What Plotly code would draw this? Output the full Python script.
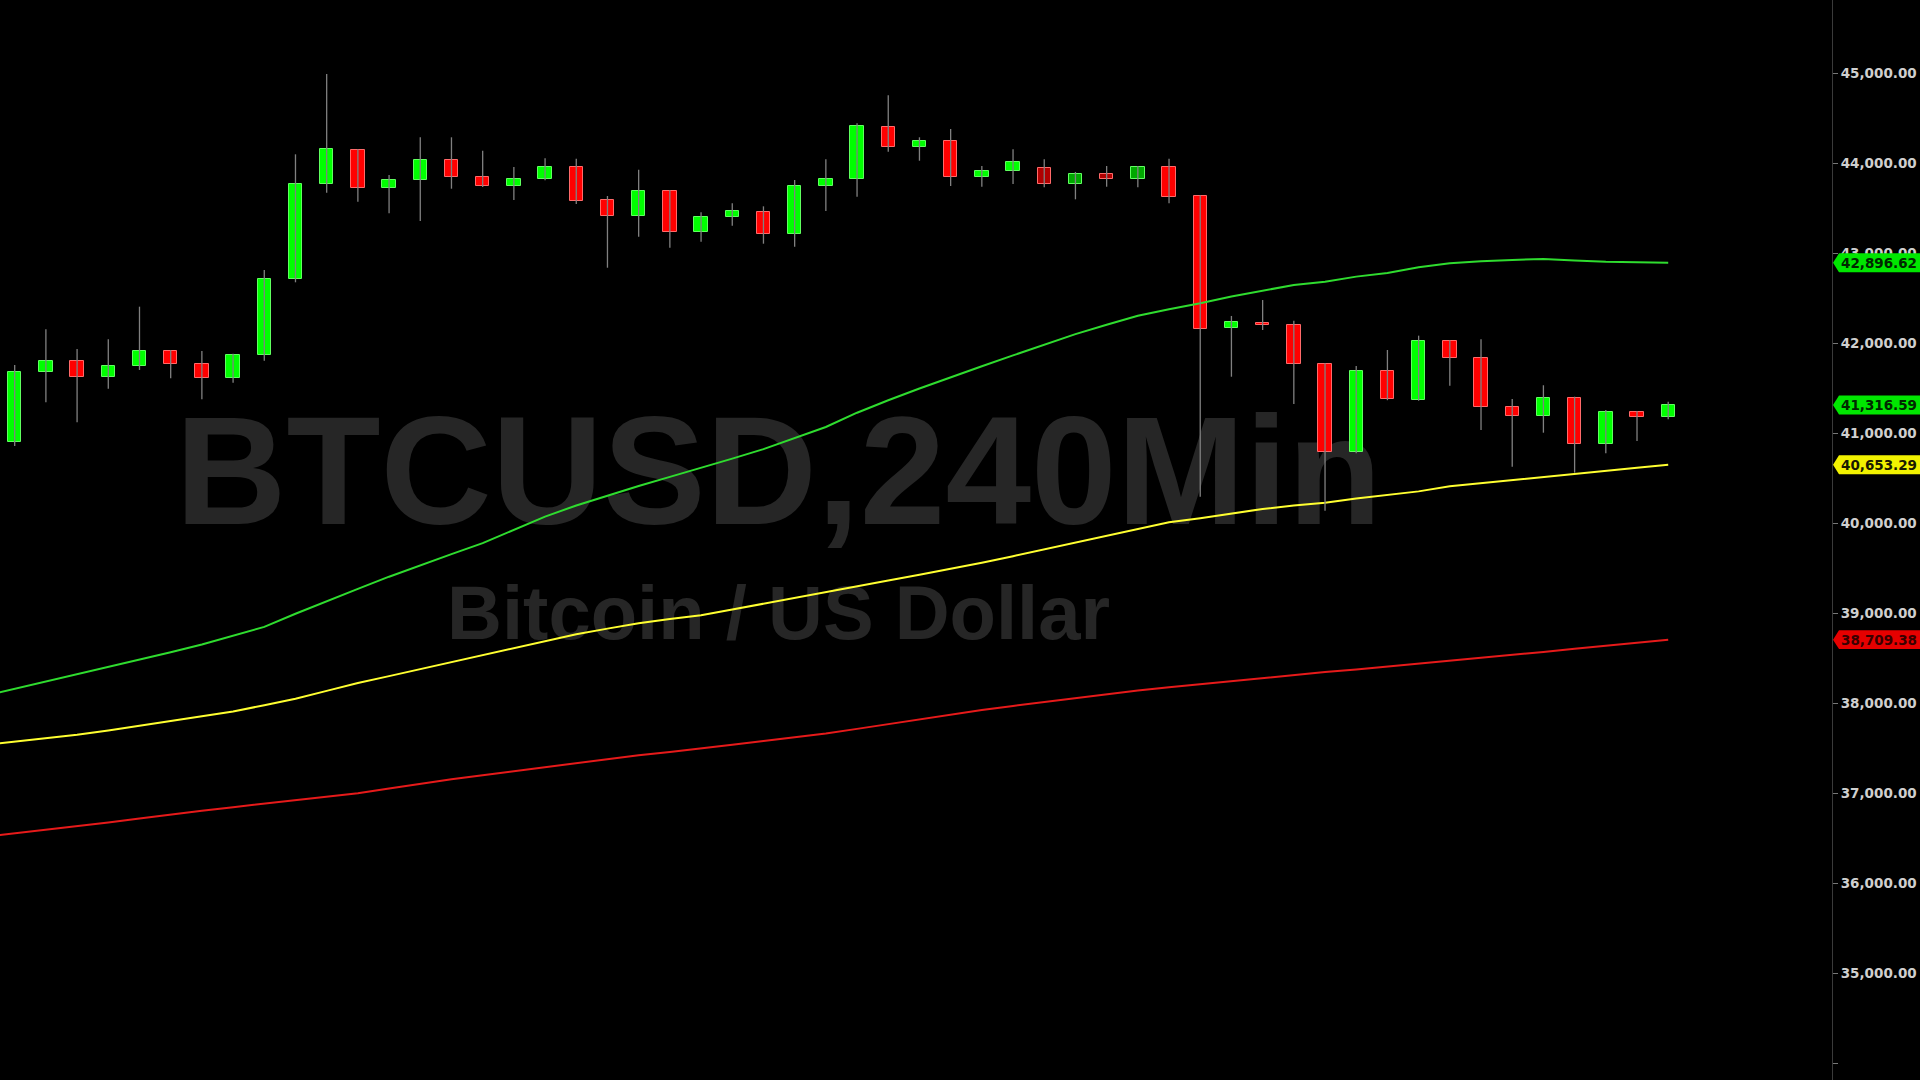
import plotly.graph_objects as go

# ---------------- data ----------------
opens = [40909, 41687, 41809, 41624, 41753, 41917, 41776, 41613, 41876, 42720,
         43772, 44150, 43731, 43817, 44039, 43847, 43750, 43828, 43964, 43591,
         43413, 43695, 43242, 43406, 43458, 43213, 43750, 43828, 44409, 44187,
         44250, 43850, 43920, 43947, 43772, 43880, 43825, 43958, 43636, 42176,
         42231, 42202, 41769, 40798, 41691, 41372, 42024, 41836, 41298, 41195,
         41391, 40883, 41239, 41187]
highs = [41761, 42158, 41939, 42047, 42409, 41928, 41917, 41887, 42817, 44102,
         44994, 44158, 43872, 44291, 44291, 44142, 43961, 44058, 44053, 43639,
         43931, 43706, 43458, 43558, 43524, 43817, 44047, 44447, 44758, 44291,
         44383, 43972, 44158, 44047, 43906, 43972, 43972, 44053, 43645, 42306,
         42483, 42253, 41780, 41750, 41928, 42087, 42035, 42047, 41384, 41536,
         41409, 41261, 41250, 41353]
lows = [40861, 41347, 41124, 41498, 41706, 41613, 41380, 41565, 41809, 42680,
        43676, 43576, 43447, 43361, 43720, 43740, 43594, 43815, 43550, 42842,
        43187, 43064, 43131, 43309, 43109, 43076, 43472, 43631, 44131, 44031,
        43750, 43742, 43772, 43736, 43602, 43742, 43736, 43558, 40298, 41631,
        42150, 41328, 40142, 40780, 41370, 41364, 41531, 41039, 40631, 41009,
        40565, 40780, 40917, 41158]
closes = [41687, 41809, 41624, 41753, 41917, 41769, 41613, 41869, 42713, 43772,
          44158, 43731, 43817, 44039, 43850, 43750, 43825, 43964, 43587, 43413,
          43695, 43242, 43409, 43476, 43213, 43753, 43831, 44417, 44187, 44250,
          43850, 43917, 44017, 43772, 43880, 43825, 43961, 43631, 42164, 42236,
          42202, 41776, 40798, 41691, 41380, 42024, 41836, 41295, 41195, 41391,
          40880, 41239, 41187, 41316.59]

# moving averages, one value per bar starting one bar before the first visible candle
ma_green = [38082, 38162, 38242, 38322, 38404, 38487, 38570, 38656, 38752, 38851,
            38997, 39138, 39273, 39409, 39537, 39660, 39782, 39933, 40077, 40200,
            40310, 40417, 40518, 40617, 40721, 40826, 40948, 41072, 41231, 41370,
            41500, 41626, 41747, 41868, 41989, 42104, 42209, 42309, 42381, 42447,
            42523, 42588, 42650, 42686, 42743, 42783, 42846, 42891, 42914, 42928,
            42939, 42922, 42907, 42902, 42896.62]
ma_yellow = [37538, 37576, 37614, 37653, 37700, 37752, 37803, 37857, 37911, 37981,
             38053, 38140, 38227, 38304, 38381, 38459, 38537, 38614, 38692, 38770,
             38832, 38892, 38939, 38980, 39044, 39110, 39174, 39239, 39302, 39367,
             39430, 39493, 39564, 39637, 39711, 39787, 39863, 39938, 40013, 40058,
             40110, 40162, 40199, 40230, 40277, 40319, 40357, 40413, 40446, 40479,
             40514, 40548, 40582, 40619, 40653.29]
ma_red = [36519, 36557, 36596, 36634, 36678, 36723, 36769, 36809, 36848, 36887,
          36926, 36964, 37003, 37056, 37108, 37158, 37203, 37249, 37293, 37339,
          37383, 37426, 37462, 37499, 37541, 37583, 37624, 37667, 37718, 37771,
          37823, 37876, 37928, 37973, 38017, 38059, 38101, 38144, 38181, 38216,
          38250, 38286, 38318, 38349, 38379, 38410, 38442, 38474, 38507, 38540,
          38573, 38608, 38641, 38676, 38709.38]

tick_values = [34000, 35000, 36000, 37000, 38000, 39000, 40000, 41000, 42000, 43000, 44000, 45000]
tick_labels = ["", "35,000.00", "36,000.00", "37,000.00", "38,000.00", "39,000.00",
               "40,000.00", "41,000.00", "42,000.00", "43,000.00", "44,000.00", "45,000.00"]

title_text = "BTCUSD,240Min"
subtitle_text = "Bitcoin / US Dollar"

# ---------------- styling ----------------
dim_bars = {33, 34, 35, 36}
UP, DOWN = "#00ff00", "#ff0000"
UP_DIM, DOWN_DIM = "#00a800", "#b00000"
AXIS_FONT = dict(family="DejaVu Sans", size=13.5)

n = len(opens)
xs = list(range(n))
ma_x = list(range(-1, n))

body_base, body_len, body_fill, body_edge = [], [], [], []
for i in xs:
    o, c = opens[i], closes[i]
    up = c >= o
    body_base.append(min(o, c))
    body_len.append(abs(c - o))
    if i in dim_bars:
        body_fill.append(UP_DIM if up else DOWN_DIM)
    else:
        body_fill.append(UP if up else DOWN)
    body_edge.append("#60ff60" if up else "#ff6a6a")

wick_x, wick_y = [], []
for i in xs:
    wick_x += [i, i, None]
    wick_y += [lows[i], highs[i], None]

fig = go.Figure()
fig.add_trace(go.Scatter(x=ma_x, y=ma_red, mode="lines",
                         line=dict(color="#e61a1a", width=2), hoverinfo="skip"))
fig.add_trace(go.Scatter(x=ma_x, y=ma_yellow, mode="lines",
                         line=dict(color="#ffff30", width=2), hoverinfo="skip"))
fig.add_trace(go.Scatter(x=ma_x, y=ma_green, mode="lines",
                         line=dict(color="#2fdc2f", width=2), hoverinfo="skip"))
fig.add_trace(go.Scatter(x=wick_x, y=wick_y, mode="lines",
                         line=dict(color="#808080", width=1.3), hoverinfo="skip"))
fig.add_trace(go.Bar(x=xs, y=body_len, base=body_base, width=0.43,
                     marker=dict(color=body_fill, line=dict(color=body_edge, width=1)),
                     hoverinfo="skip"))

# watermark drawn below the traces (shape labels on the "below" layer)
fig.add_shape(type="rect", xref="paper", yref="paper", x0=0.05, x1=0.80, y0=0.5111, y1=0.6445,
              line=dict(width=0), fillcolor="rgba(0,0,0,0)", layer="below",
              label=dict(text=f"<b>{title_text}</b>", textposition="middle center",
                         font=dict(family="Liberation Sans, Arial", size=154, color="#262626")))
fig.add_shape(type="rect", xref="paper", yref="paper", x0=0.15, x1=0.70, y0=0.4065, y1=0.4731,
              line=dict(width=0), fillcolor="rgba(0,0,0,0)", layer="below",
              label=dict(text=f"<b>{subtitle_text}</b>", textposition="middle center",
                         font=dict(family="Liberation Sans, Arial", size=76, color="#262626")))

# price tags on the right axis
PLOT_W = 1832.0
tip, body_l, right = 1833 / PLOT_W, 1839 / PLOT_W, 1920 / PLOT_W
half = 105
tags = [(ma_green[-1], "#00e600", "#002800"),
        (closes[-1], "#00e600", "#002800"),
        (ma_yellow[-1], "#f2f200", "#1a1a00"),
        (ma_red[-1], "#e60000", "#3a0000")]
for val, bg, fg in tags:
    path = (f"M {tip},{val} L {body_l},{val + half} L {right},{val + half} "
            f"L {right},{val - half} L {body_l},{val - half} Z")
    fig.add_shape(type="path", path=path, xref="paper", yref="y",
                  fillcolor=bg, line=dict(width=0), layer="above")
    fig.add_annotation(text=f"<b>{val:,.2f}</b>", xref="paper", yref="y",
                       x=body_l, y=val, xanchor="left", yanchor="middle", showarrow=False,
                       font=dict(color=fg, **AXIS_FONT))

fig.update_layout(
    width=1920, height=1080,
    margin=dict(l=0, r=88, t=0, b=0),
    paper_bgcolor="#000000", plot_bgcolor="#000000",
    showlegend=False, barmode="overlay", bargap=0,
    xaxis=dict(range=[-0.471, 58.25], visible=False, showgrid=False, zeroline=False,
               fixedrange=True),
    yaxis=dict(range=[33816.7, 45816.7], side="right", showgrid=False, zeroline=False,
               tickvals=tick_values, ticktext=tick_labels,
               ticks="outside", ticklen=5, tickcolor="#777777", tickwidth=1,
               showline=True, linecolor="#3a3a3a", linewidth=1,
               tickfont=dict(color="#cfcfcf", weight="bold", **AXIS_FONT),
               fixedrange=True),
)

fig.write_html("out.html", config={"displayModeBar": False},
               post_script="document.body.style.margin='0';document.body.style.background='#000';document.body.style.overflow='hidden';")
